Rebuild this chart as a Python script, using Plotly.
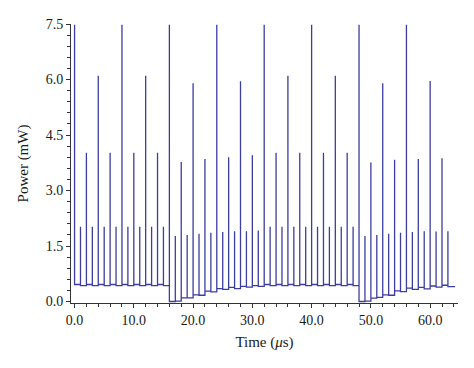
import plotly.graph_objects as go

# Spike times (µs) and spike peak heights (mW)
spike_times = list(range(64))
steady_peaks = [7.48, 2.02, 4.02, 2.02, 6.1, 2.02, 4.02, 2.02,
                7.48, 2.02, 4.02, 2.02, 6.1, 2.02, 4.02, 2.02]
recover_peaks_a = [7.48, 1.77, 3.77, 1.80, 5.90, 1.83, 3.85, 1.86,
                   7.48, 1.88, 3.90, 1.90, 5.95, 1.90, 3.95, 1.92]
recover_peaks_b = [7.48, 1.77, 3.76, 1.80, 5.90, 1.83, 3.83, 1.86,
                   7.48, 1.88, 3.85, 1.90, 5.96, 1.89, 3.87, 1.90]
peaks = steady_peaks + recover_peaks_a + steady_peaks + recover_peaks_b

# Baseline level (mW) for each 1-µs interval following a spike
steady_base = [0.46, 0.43] * 8
recover_base_a = [0.00, 0.01, 0.10, 0.10, 0.18, 0.17, 0.28, 0.26,
                  0.35, 0.33, 0.38, 0.35, 0.41, 0.39, 0.43, 0.41]
recover_base_b = [0.00, 0.01, 0.09, 0.11, 0.18, 0.17, 0.29, 0.27,
                  0.36, 0.33, 0.38, 0.34, 0.42, 0.39, 0.44, 0.40]
baselines = steady_base + recover_base_a + steady_base + recover_base_b
end_time = 64.2

# Build the pulse train as a polyline from the data lists
xs, ys = [], []
for i, t in enumerate(spike_times):
    if i > 0:
        xs.append(t); ys.append(baselines[i - 1])
    xs.append(t); ys.append(peaks[i])
    xs.append(t); ys.append(baselines[i])
    t_next = spike_times[i + 1] if i + 1 < len(spike_times) else end_time
    xs.append(t_next); ys.append(baselines[i])

fig = go.Figure()
fig.add_trace(go.Scatter(x=xs, y=ys, mode="lines",
                         line=dict(color="#3d3d9f", width=1.3),
                         showlegend=False, hoverinfo="skip"))

font_family = "Liberation Serif"
# page body has an 8px margin, so the figure is shrunk and margins offset by 8px
fig.update_layout(
    width=466, height=360,
    margin=dict(l=63, r=16, t=16, b=65, autoexpand=False),
    paper_bgcolor="white", plot_bgcolor="white",
    font=dict(family=font_family, size=14, color="#1a1a1a"),
)
fig.update_xaxes(
    range=[-0.6, 64.7], tickvals=[0, 10, 20, 30, 40, 50, 60],
    tickformat=".1f", ticks="outside", ticklen=4, tickwidth=1,
    tickcolor="#333", showline=True, linecolor="#333", linewidth=1,
    showgrid=False, zeroline=False, automargin=False,
    minor=dict(dtick=2, tick0=0, ticks="outside", ticklen=3, tickcolor="#333", showgrid=False),
    title=dict(text="Time (<i>μ</i>s)", standoff=9, font=dict(size=15)),
    tickfont=dict(size=14),
)
fig.update_yaxes(
    range=[-0.04, 7.5], tickvals=[0, 1.5, 3.0, 4.5, 6.0, 7.5],
    tickformat=".1f", ticks="outside", ticklen=4, tickwidth=1,
    tickcolor="#333", showline=True, linecolor="#333", linewidth=1,
    showgrid=False, zeroline=False, automargin=False,
    minor=dict(dtick=0.3, tick0=0, ticks="outside", ticklen=3, tickcolor="#333", showgrid=False),
    title=dict(text="Power (mW)", standoff=13, font=dict(size=15)),
    tickfont=dict(size=14),
)

fig.write_html("out.html")
